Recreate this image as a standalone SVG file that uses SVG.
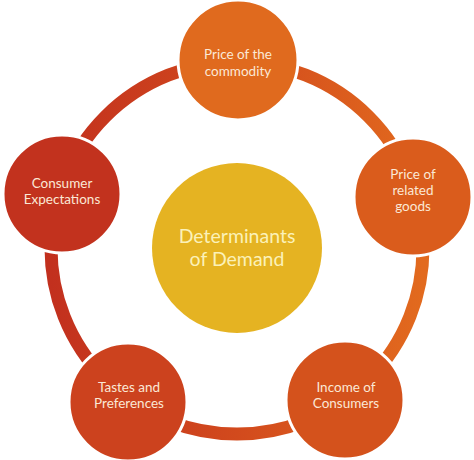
<svg xmlns="http://www.w3.org/2000/svg" width="474" height="460" viewBox="0 0 474 460">
<defs>
<linearGradient id="ring" x1="0" y1="0" x2="1" y2="0">
<stop offset="0" stop-color="#c2301e"/>
<stop offset="0.5" stop-color="#d24a1d"/>
<stop offset="1" stop-color="#e26a1e"/>
</linearGradient>
</defs>
<style>
.node circle{stroke:#ffffff;stroke-width:3}
.node text{font-family:Lato,"Open Sans",sans-serif;font-size:13.5px;fill:#fbe8d6;text-anchor:middle}
.center text{font-family:Lato,"Open Sans",sans-serif;font-size:19.5px;fill:#fbf1b8;text-anchor:middle}
</style>
<rect width="474" height="460" fill="#ffffff"/>
<g id="connectors">
<circle cx="237" cy="248" r="186" fill="none" stroke="url(#ring)" stroke-width="13"/>
</g>
<g id="center" class="center">
<circle cx="237" cy="248" r="85" fill="#e5b322"/>
<text x="237" y="243">Determinants</text>
<text x="237" y="266">of Demand</text>
</g>
<g id="price-commodity" class="node">
<circle cx="238" cy="60" r="60" fill="#e06a1e"/>
<text x="238" y="59">Price of the</text>
<text x="238" y="76">commodity</text>
</g>
<g id="price-related" class="node">
<circle cx="413" cy="197" r="59" fill="#da5c1c"/>
<text x="413" y="179">Price of</text>
<text x="413" y="195">related</text>
<text x="413" y="211">goods</text>
</g>
<g id="income" class="node">
<circle cx="345" cy="400" r="59" fill="#d4521c"/>
<text x="346" y="392">Income of</text>
<text x="346" y="408">Consumers</text>
</g>
<g id="tastes" class="node">
<circle cx="128" cy="402" r="59" fill="#cc421e"/>
<text x="129" y="392">Tastes and</text>
<text x="129" y="408">Preferences</text>
</g>
<g id="expectations" class="node">
<circle cx="62" cy="194" r="59" fill="#c2321e"/>
<text x="62" y="188">Consumer</text>
<text x="62" y="204">Expectations</text>
</g>
</svg>
